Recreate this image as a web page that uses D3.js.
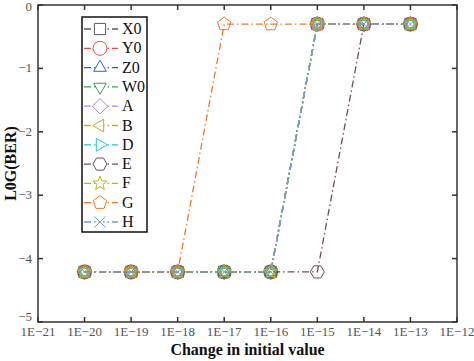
<!DOCTYPE html>
<html>
<head>
<meta charset="utf-8">
<script src="https://cdn.jsdelivr.net/npm/d3@7"></script>
<style>
  body { margin: 0; background: #fff; }
  text { font-family: "Liberation Serif", "DejaVu Serif", serif; }
</style>
</head>
<body>
<div id="chart"></div>
<script>
// Data: x positions are exponents of the change in initial value (1E-n)
const xExps = [-20, -19, -18, -17, -16, -15, -14, -13];
const xTicks = [-21, -20, -19, -18, -17, -16, -15, -14, -13, -12];
const yTicks = [0, -1, -2, -3, -4, -5];

const seriesNames = ["X0", "Y0", "Z0", "W0", "A", "B", "D", "E", "F", "G", "H"];
const seriesColors = ["#5a5a5a", "#e0504a", "#2a64c0", "#3a9a5a", "#b583dc", "#d4aa10", "#1ec8d8", "#6e5050", "#b8b81a", "#ec7a2c", "#6f9fd0"];
const seriesShapes = ["square", "circle", "triangleUp", "triangleDown", "diamond", "triangleLeft", "triangleRight", "hexagon", "star", "pentagon", "cross"];

const vX0 = [-4.21, -4.21, -4.21, -4.21, -4.21, -0.301, -0.301, -0.301];
const vY0 = [-4.21, -4.21, -4.21, -4.21, -4.21, -0.301, -0.301, -0.301];
const vZ0 = [-4.21, -4.21, -4.21, -4.21, -4.21, -0.301, -0.301, -0.301];
const vW0 = [-4.21, -4.21, -4.21, -4.21, -4.21, -0.301, -0.301, -0.301];
const vA  = [-4.21, -4.21, -4.21, -4.21, -4.21, -0.301, -0.301, -0.301];
const vB  = [-4.21, -4.21, -4.21, -4.21, -4.21, -0.301, -0.301, -0.301];
const vD  = [-4.21, -4.21, -4.21, -4.21, -4.21, -0.301, -0.301, -0.301];
const vE  = [-4.21, -4.21, -4.21, -4.21, -4.21, -4.21, -0.301, -0.301];
const vF  = [-4.21, -4.21, -4.21, -4.21, -4.21, -0.301, -0.301, -0.301];
const vG  = [-4.21, -4.21, -4.21, -0.301, -0.301, -0.301, -0.301, -0.301];
const vH  = [-4.21, -4.21, -4.21, -4.21, -4.21, -0.301, -0.301, -0.301];
const seriesValues = [vX0, vY0, vZ0, vW0, vA, vB, vD, vE, vF, vG, vH];

// Chart dimensions
const W = 474, H = 361;
const margin = { top: 5, right: 17, bottom: 39, left: 38 };
const width = W - margin.left - margin.right;
const height = H - margin.top - margin.bottom;

const svg = d3.select("#chart").append("svg")
    .attr("width", W)
    .attr("height", H);

const g = svg.append("g")
    .attr("transform", `translate(${margin.left},${margin.top})`);

const x = d3.scaleLinear().domain([-21, -12]).range([0, width]);
const y = d3.scaleLinear().domain([-5, 0]).range([height, 0]);

// Marker path for a shape centered at 0,0
function markerPath(shape, r) {
    const poly = (n, rot, rad) => {
        const pts = [];
        for (let i = 0; i < n; i++) {
            const a = rot + (i * 2 * Math.PI) / n;
            pts.push([rad * Math.cos(a), rad * Math.sin(a)]);
        }
        return "M" + pts.map(p => p.join(",")).join("L") + "Z";
    };
    switch (shape) {
        case "square": return `M${-r * 0.8},${-r * 0.8}h${r * 1.6}v${r * 1.6}h${-r * 1.6}Z`;
        case "circle": return d3.arc()({ innerRadius: 0, outerRadius: r, startAngle: 0, endAngle: 2 * Math.PI });
        case "triangleUp": return poly(3, -Math.PI / 2, r * 1.05);
        case "triangleDown": return poly(3, Math.PI / 2, r * 1.05);
        case "triangleLeft": return poly(3, Math.PI, r * 1.05);
        case "triangleRight": return poly(3, 0, r * 1.05);
        case "diamond": return poly(4, -Math.PI / 2, r * 1.1);
        case "hexagon": return poly(6, 0, r);
        case "pentagon": return poly(5, -Math.PI / 2, r);
        case "star": {
            const pts = [];
            for (let i = 0; i < 10; i++) {
                const a = -Math.PI / 2 + (i * Math.PI) / 5;
                const rad = i % 2 === 0 ? r * 1.05 : r * 0.45;
                pts.push([rad * Math.cos(a), rad * Math.sin(a)]);
            }
            return "M" + pts.map(p => p.join(",")).join("L") + "Z";
        }
        case "cross": return `M${-r * 0.8},${-r * 0.8}L${r * 0.8},${r * 0.8}M${-r * 0.8},${r * 0.8}L${r * 0.8},${-r * 0.8}`;
    }
}

const dash = "7,3,1.5,3";
const line = d3.line().x((d, i) => x(xExps[i])).y(d => y(d));

// Series lines and markers
seriesNames.forEach((name, k) => {
    const vals = seriesValues[k];
    g.append("path")
        .datum(vals)
        .attr("d", line)
        .attr("fill", "none")
        .attr("stroke", seriesColors[k])
        .attr("stroke-width", 1.3)
        .attr("stroke-dasharray", dash);

    g.selectAll(".m" + k)
        .data(vals)
        .enter()
        .append("path")
        .attr("class", "m" + k)
        .attr("transform", (d, i) => `translate(${x(xExps[i])},${y(d)})`)
        .attr("d", markerPath(seriesShapes[k], 7))
        .attr("fill", "none")
        .attr("stroke", seriesColors[k])
        .attr("stroke-width", 1);
});

// Axes frame with inward ticks
const axisColor = "#333";
g.append("rect")
    .attr("width", width)
    .attr("height", height)
    .attr("fill", "none")
    .attr("stroke", axisColor)
    .attr("stroke-width", 1.5);

const tickLen = 5;
xTicks.forEach(t => {
    g.append("line").attr("x1", x(t)).attr("x2", x(t)).attr("y1", height).attr("y2", height - tickLen)
        .attr("stroke", axisColor).attr("stroke-width", 1.5);
    g.append("line").attr("x1", x(t)).attr("x2", x(t)).attr("y1", 0).attr("y2", tickLen)
        .attr("stroke", axisColor).attr("stroke-width", 1.5);
    g.append("text")
        .attr("x", x(t))
        .attr("y", height + 14)
        .attr("text-anchor", "middle")
        .attr("font-size", "13px")
        .attr("fill", "#555")
        .text(`1E\u2212${-t}`);
});

yTicks.forEach(t => {
    g.append("line").attr("x1", 0).attr("x2", tickLen).attr("y1", y(t)).attr("y2", y(t))
        .attr("stroke", axisColor).attr("stroke-width", 1.5);
    g.append("line").attr("x1", width).attr("x2", width - tickLen).attr("y1", y(t)).attr("y2", y(t))
        .attr("stroke", axisColor).attr("stroke-width", 1.5);
    g.append("text")
        .attr("x", -6)
        .attr("y", t === -5 ? y(t) - 1 : t === 0 ? y(t) + 6 : y(t) + 4)
        .attr("text-anchor", "end")
        .attr("font-size", "13px")
        .attr("fill", "#555")
        .text(t === 0 ? "0" : `\u2212${-t}`);
});

// Axis titles
svg.append("text")
    .attr("x", margin.left + width / 2)
    .attr("y", 355)
    .attr("text-anchor", "middle")
    .attr("font-size", "16px")
    .attr("font-weight", "bold")
    .attr("fill", "#111")
    .text("Change in initial value");

svg.append("text")
    .attr("transform", `translate(16,${margin.top + height / 2}) rotate(-90)`)
    .attr("text-anchor", "middle")
    .attr("font-size", "16px")
    .attr("font-weight", "bold")
    .attr("fill", "#111")
    .text("L0G(BER)");

// Legend
const legend = svg.append("g").attr("transform", "translate(82,17)");
legend.append("rect")
    .attr("width", 65)
    .attr("height", 215)
    .attr("fill", "#fff")
    .attr("stroke", "#111")
    .attr("stroke-width", 1.5);

seriesNames.forEach((name, k) => {
    const ly = 12 + k * 19.3;
    legend.append("line")
        .attr("x1", 2).attr("x2", 36)
        .attr("y1", ly).attr("y2", ly)
        .attr("stroke", seriesColors[k])
        .attr("stroke-width", 1.3)
        .attr("stroke-dasharray", "7,3,1.5,3,1.5,3,1.5,3,1.5,3");
    legend.append("path")
        .attr("transform", `translate(18,${ly})`)
        .attr("d", markerPath(seriesShapes[k], 7))
        .attr("fill", "#fff")
        .attr("stroke", seriesColors[k])
        .attr("stroke-width", 1);
    legend.append("text")
        .attr("x", 40)
        .attr("y", ly + 5)
        .attr("font-size", "16px")
        .attr("fill", "#111")
        .text(name);
});
</script>
</body>
</html>
